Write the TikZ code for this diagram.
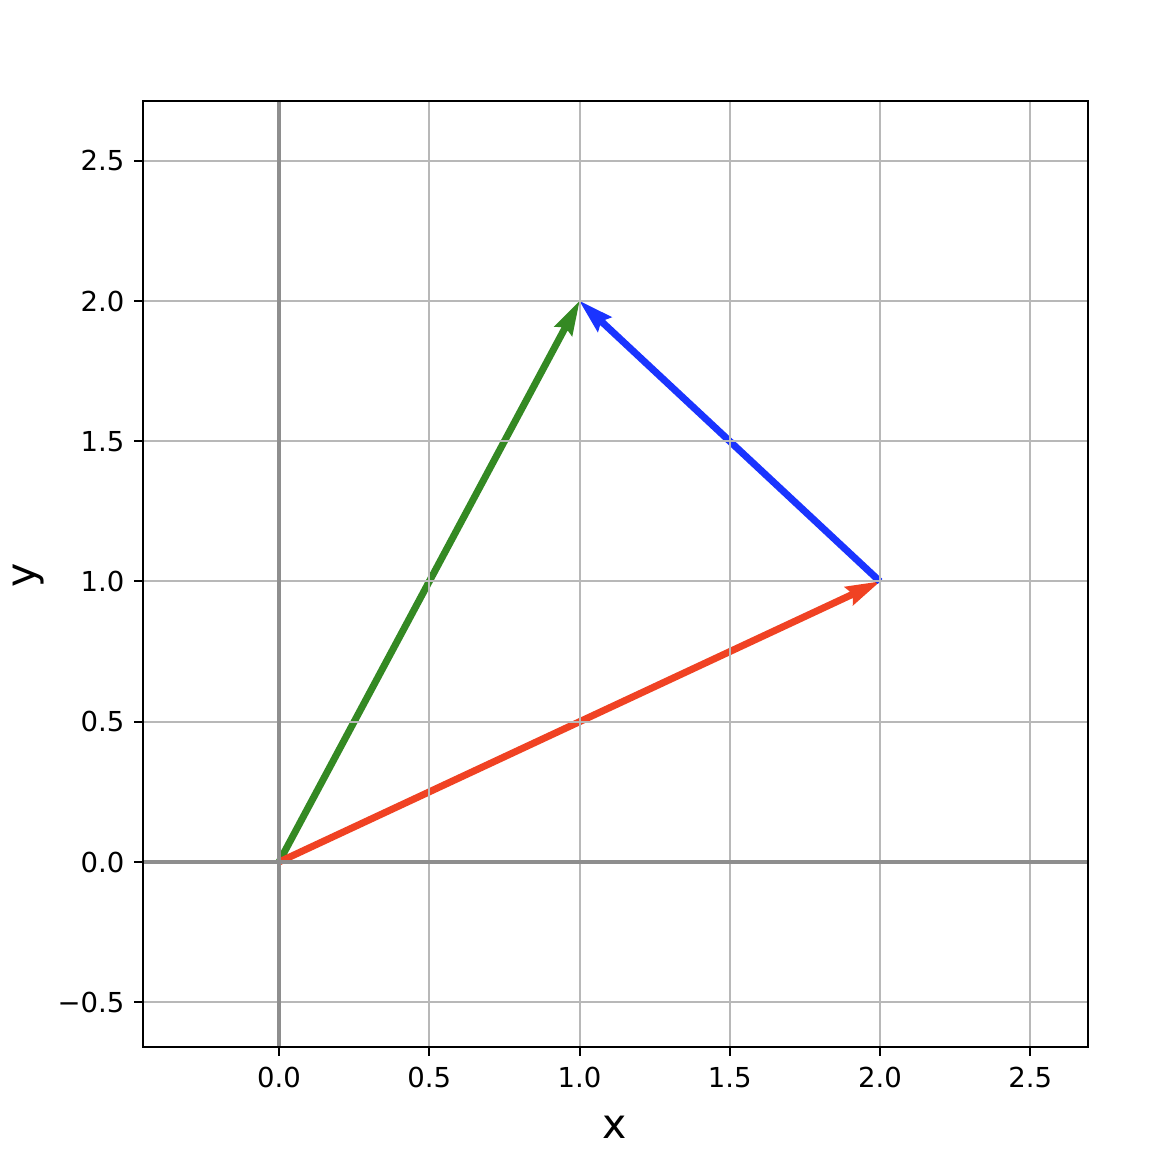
\documentclass[tikz,border=0pt]{standalone}
\usepackage{fontspec}
\setmainfont{DejaVu Sans}
\usetikzlibrary{calc}
\definecolor{gridc}{RGB}{184,184,184}
\definecolor{axc}{RGB}{142,142,142}
\definecolor{qgreen}{RGB}{52,137,35}
\definecolor{qblue}{RGB}{26,52,255}
\definecolor{qred}{RGB}{240,66,35}
\newcommand\quivarrow[3]{%
  \fill[#1] ($(#2)!3.5pt!90:(#3)$)
    -- ($(#3)!31.5pt!(#2)!3.5pt!-90:(#2)$)
    -- ($(#3)!35pt!(#2)!10.5pt!-90:(#2)$)
    -- (#3)
    -- ($(#3)!35pt!(#2)!10.5pt!90:(#2)$)
    -- ($(#3)!31.5pt!(#2)!3.5pt!90:(#2)$)
    -- ($(#2)!3.5pt!-90:(#3)$) -- cycle;}
\tikzset{
  gridline/.style={draw=gridc, line width=2pt},
  axline/.style={draw=axc, line width=4pt},
  frameline/.style={draw=black, line width=2pt},
  tickline/.style={draw=black, line width=2pt},
  ticklabel/.style={inner sep=0pt, font=\fontsize{27.5}{33}\selectfont},
  axlabel/.style={inner sep=0pt, font=\fontsize{41}{48}\selectfont}
}
\begin{document}
\begin{tikzpicture}[x=300.5pt, y=280.5pt]
\useasboundingbox[fill=white] (-0.92845,-1.07665) rectangle (2.90516,3.07308);
\def\xl{-0.4526}\def\xr{2.6922}\def\yb{-0.6595}\def\yt{2.7130}
\coordinate (O) at (0,0);
\coordinate (P) at (1,2);
\coordinate (Q) at (2,1);
% arrows
\quivarrow{qgreen}{O}{P}
\quivarrow{qred}{O}{Q}
\quivarrow{qblue}{Q}{P}
% grid
\foreach \v in {0,0.5,1,1.5,2,2.5} \draw[gridline] (\v,\yb) -- (\v,\yt);
\foreach \v in {-0.5,0,0.5,1,1.5,2,2.5} \draw[gridline] (\xl,\v) -- (\xr,\v);
% axis lines
\draw[axline] (0,\yb) -- (0,\yt);
\draw[axline] (\xl,0) -- (\xr,0);
% frame
\draw[frameline] (\xl,\yb) rectangle (\xr,\yt);
% ticks and labels
\foreach \v/\t [count=\i] in {0/0.0,0.5/0.5,1/1.0,1.5/1.5,2/2.0,2.5/2.5}{
  \draw[tickline] (\v,\yb) -- ++(0,-8.75pt);
  \node[ticklabel, anchor=north, yshift=-20pt] (xt\i) at (\v,\yb) {\t};
}
\foreach \v/\t [count=\i] in {-0.5/−0.5,0/0.0,0.5/0.5,1/1.0,1.5/1.5,2/2.0,2.5/2.5}{
  \draw[tickline] (\xl,\v) -- ++(-8.75pt,0);
  \node[ticklabel, anchor=east, xshift=-18.5pt] (yt\i) at (\xl,\v) {\t};
}
\node[axlabel] (xlab) at (1.1181,-0.9447) {x};
\node[axlabel, rotate=90] (ylab) at (-0.8336,1.0232) {y};
\end{tikzpicture}
\end{document}
